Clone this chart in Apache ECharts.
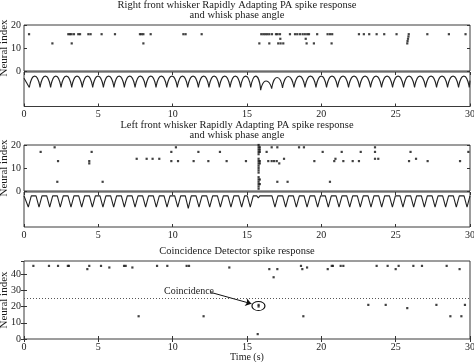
<!DOCTYPE html>
<html><head><meta charset="utf-8">
<script src="https://cdn.jsdelivr.net/npm/echarts/dist/echarts.min.js"></script>
<style>html,body{margin:0;padding:0;background:#fff;overflow:hidden}#c{width:474px;height:362px}</style>
</head><body><div id="c"></div>
<script>
// ---------- data ----------
const timeTicks = [0, 5, 10, 15, 20, 25, 30];
const titles = [
  "Right front whisker Rapidly Adapting PA spike response\nand whisk phase angle",
  "Left front whisker Rapidly Adapting PA spike response\nand whisk phase angle",
  "Coincidence Detector spike response"
];
// right whisker raster: [time (s), neural index]
const rightSpikes = [
  [0.34,16],[2.98,16],[3.09,16],[3.20,16],[3.36,16],[3.65,16],[3.77,16],[4.33,16],[4.48,16],[5.22,16],
  [6.12,16],[7.80,16],[7.91,16],[8.03,16],[8.52,16],[10.72,16],[10.87,16],[11.95,16],[15.96,16],[16.10,16],
  [16.23,16],[16.36,16],[16.50,16],[16.68,16],[16.95,16],[17.06,16],[17.22,16],[17.89,16],[18.23,16],[18.38,16],
  [18.56,16],[18.74,16],[18.89,16],[19.05,16],[19.17,16],[19.72,16],[20.42,16],[20.58,16],[20.73,16],[22.53,16],
  [22.86,16],[23.22,16],[23.72,16],[24.23,16],[25.06,16],[25.88,16],[27.13,16],[28.58,16],[29.70,16],
  [1.91,12],[3.21,12],[8.03,12],[15.83,12],[16.50,12],[17.10,12],[17.26,12],[17.44,12],[19.01,12],[19.50,12],
  [20.69,12],[25.78,12],[17.24,14],[18.95,14],[25.86,15],[25.83,14],[25.80,13]
];
// left whisker raster
const leftSpikes = [
  [1.12,17],[2.06,19],[2.29,13],[2.24,4],[4.39,13],[4.39,12],[4.55,17],[5.29,4],[7.58,14],[8.25,14],
  [8.65,14],[9.10,14],[9.91,17],[9.91,13],[10.22,19],[10.36,13],[11.41,13],[11.73,17],[12.40,13],[13.18,17],
  [13.63,13],[14.93,13],
  [15.78,20],[15.78,19],[15.78,18],[15.78,17],[15.78,16],[15.78,14],[15.78,13],[15.78,12],[15.78,11],[15.78,10],
  [15.78,9],[15.78,8],[15.78,6],[15.78,5],[15.78,4],[15.78,3],[15.78,2],[15.78,1],
  [15.86,19],[15.86,18],[15.86,17],[15.86,13],[15.86,12],[15.86,5],[15.86,3],
  [16.32,17],[16.66,19],[16.43,13],[16.66,13],[16.82,13],[17.00,13],[17.17,12],[17.04,19],[17.04,4],[17.49,14],
  [17.73,4],[18.50,19],[18.83,19],[19.53,13],[20.09,17],[20.58,4],[20.87,13],[20.95,14],[21.37,17],[21.48,13],
  [22.11,13],[22.53,13],[22.65,17],[23.61,19],[23.61,17],[23.61,14],[23.83,14],[25.90,13],[26.00,17],[26.37,14],
  [27.15,13],[29.33,13],[29.89,17]
];
// coincidence detector raster
const coincSpikes = [
  [0.63,45],[1.68,45],[2.29,45],[2.95,45],[3.02,45],[4.26,43],[4.39,45],[5.18,45],[5.74,44],[6.73,45],
  [6.84,45],[7.29,44],[7.71,14],[8.95,45],[9.64,45],[10.94,45],[11.10,45],[12.08,14],[13.81,44],[15.72,3],
  [15.78,20],[15.78,21],[16.50,43],[16.79,38],[17.04,43],[18.63,45],[18.72,43],[18.79,14],[19.04,44],[20.43,43],
  [20.70,45],[20.78,45],[21.30,45],[21.48,45],[23.16,21],[23.72,45],[24.33,21],[24.46,45],[25.00,43],[25.20,45],
  [25.78,19],[26.19,45],[26.77,45],[27.74,21],[28.43,45],[28.68,14],[29.30,43],[29.42,14],[29.66,21]
];
const threshold = [25];
// whisk phase (right): cusp times, cusp levels, arch tops between cusps
const rightTroughT = [0.36,1.08,1.79,2.49,3.21,3.92,4.62,5.34,6.05,6.75,7.47,8.18,8.88,9.60,10.31,11.01,11.73,12.44,13.14,13.86,14.57,15.25,15.92,16.66,17.39,18.16,18.90,19.64,20.35,21.09,21.83,22.57,23.31,24.05,24.79,25.53,26.27,27.01,27.75,28.49,29.23,29.95];
const rightTroughV = [0.55,0.55,0.55,0.55,0.55,0.55,0.55,0.55,0.55,0.55,0.55,0.55,0.55,0.55,0.55,0.55,0.55,0.55,0.55,0.55,0.55,0.55,0.47,0.52,0.54,0.55,0.55,0.55,0.55,0.55,0.55,0.55,0.55,0.55,0.55,0.55,0.55,0.55,0.55,0.55,0.55,0.55];
const rightPeakV = [0.88,0.88,0.88,0.88,0.88,0.88,0.88,0.88,0.88,0.88,0.88,0.88,0.88,0.88,0.88,0.88,0.88,0.88,0.88,0.88,0.88,0.88,0.74,0.84,0.87,0.88,0.88,0.88,0.88,0.88,0.88,0.88,0.88,0.88,0.88,0.88,0.88,0.88,0.88,0.88,0.88];
const rightStartV = 0.82, rightEndV = 0.75;
// whisk phase (left): trough times and levels, flat top level
const leftTroughT = [0.29,1.01,1.73,2.44,3.16,3.88,4.60,5.31,6.03,6.75,7.47,8.18,8.90,9.62,10.34,11.05,11.77,12.49,13.21,13.92,14.64,15.22,15.76,16.88,17.60,18.32,19.04,19.75,20.47,21.19,21.91,22.62,23.34,24.06,24.78,25.49,26.21,26.93,27.65,28.36,29.08,29.80];
const leftTroughV = [0.57,0.57,0.57,0.57,0.57,0.57,0.57,0.57,0.57,0.57,0.57,0.57,0.57,0.57,0.57,0.53,0.57,0.57,0.57,0.57,0.57,0.57,0.83,0.57,0.57,0.57,0.57,0.57,0.57,0.57,0.57,0.57,0.57,0.57,0.57,0.57,0.57,0.57,0.57,0.57,0.57,0.57];
const leftTopV = 0.89;
// annotation (data coordinates)
const annText = "Coincidence";
const annTextAt = [11.1, 29.3];
const annArrowFrom = [12.6, 28.6];
const annArrowTo = [15.3, 21.7];
const annCircleAt = [15.77, 20.3];

// ---------- build ----------
const FONT = "'Liberation Serif','Times New Roman',serif";
const INK = '#1a1a1a';

function rightPhaseData() {
  const d = [[0, rightStartV], [rightTroughT[0], rightTroughV[0]], ['-', '-']];
  for (let i = 0; i < rightTroughT.length - 1; i++) {
    const a = rightTroughT[i], b = rightTroughT[i + 1];
    d.push([a, rightTroughV[i]], [(a + b) / 2, rightPeakV[i]], [b, rightTroughV[i + 1]], ['-', '-']);
  }
  const n = rightTroughT.length - 1;
  d.push([rightTroughT[n], rightTroughV[n]], [30, rightEndV]);
  return d;
}
function leftPhaseData() {
  const d = [[0, leftTopV]];
  leftTroughT.forEach((t, i) => {
    const hw = leftTroughV[i] > 0.7 ? 0.1 : 0.2;
    d.push([t - hw, leftTopV], [t, leftTroughV[i]], [t + hw, leftTopV]);
  });
  d.push([30, leftTopV]);
  return d;
}

const L = 24, W = 446;
const gridBox = (top, height) => ({left: L, width: W, top, height, show: true,
  containLabel: false, outerBoundsMode: 'none',
  borderColor: '#3a3a3a', borderWidth: 1, backgroundColor: 'transparent'});
const grids = [gridBox(25, 46), gridBox(72, 34.5), gridBox(145, 46), gridBox(192, 35), gridBox(261, 78)];

const tickStyle = {inside: true, length: 3, lineStyle: {color: '#333'}};
const labelStyle = {color: INK, fontFamily: FONT, fontSize: 10};
function xAx(grid, opts) {
  return Object.assign({type: 'value', gridIndex: grid, min: 0, max: 30, interval: 5,
    axisLine: {show: false}, splitLine: {show: false},
    axisTick: {show: false}, axisLabel: {show: false}}, opts);
}
function yAx(grid, min, max, interval, opts) {
  return Object.assign({type: 'value', gridIndex: grid, min, max, interval,
    axisLine: {show: false}, splitLine: {show: false},
    axisTick: {show: false}, axisLabel: {show: false}}, opts);
}
const xLabels = {show: true, margin: 3, ...labelStyle, showMaxLabel: true, hideOverlap: false,
  formatter: v => timeTicks.includes(v) ? String(v) : ''};
const yName = {name: 'Neural index', nameLocation: 'middle', nameGap: 14, nameRotate: 90,
  nameMoveOverlap: false,
  nameTextStyle: {color: INK, fontFamily: FONT, fontSize: 11}};

const xAxes = [
  xAx(0, {}),
  xAx(1, {position: 'bottom', axisTick: tickStyle, axisLabel: xLabels}),
  xAx(1, {position: 'top', axisTick: tickStyle}),
  xAx(2, {}),
  xAx(3, {position: 'bottom', axisTick: tickStyle, axisLabel: xLabels}),
  xAx(3, {position: 'top', axisTick: tickStyle}),
  xAx(4, {position: 'bottom', axisTick: tickStyle, axisLabel: xLabels,
    name: 'Time (s)', nameLocation: 'middle', nameGap: 13, nameMoveOverlap: false,
    nameTextStyle: {color: INK, fontFamily: FONT, fontSize: 10}}),
  xAx(4, {position: 'top', axisTick: tickStyle})
];
const yLab = {show: true, margin: 3, ...labelStyle};
const yAxes = [
  yAx(0, 0, 20, 10, Object.assign({position: 'left', axisTick: tickStyle, axisLabel: yLab}, yName)),
  yAx(0, 0, 20, 10, {position: 'right', axisTick: tickStyle}),
  yAx(1, 0, 1, 0.5, {}),
  yAx(2, 0, 20, 10, Object.assign({position: 'left', axisTick: tickStyle, axisLabel: yLab}, yName)),
  yAx(2, 0, 20, 10, {position: 'right', axisTick: tickStyle}),
  yAx(3, 0, 1, 0.5, {}),
  yAx(4, 0, 48, 10, Object.assign({position: 'left', axisTick: tickStyle,
    axisLabel: Object.assign({showMaxLabel: false}, yLab)}, yName)),
  yAx(4, 0, 48, 10, {position: 'right', axisTick: tickStyle})
];

const dot = {type: 'scatter', symbol: 'rect', symbolSize: 2.2, itemStyle: {color: '#111'}, silent: true};

const option = {
  animation: false,
  backgroundColor: '#fff',
  title: [
    {text: titles[0], left: 'center', top: -0.5},
    {text: titles[1], left: 'center', top: 119.5},
    {text: titles[2], left: 'center', top: 245.5}
  ].map(t => Object.assign(t, {padding: 0, itemGap: 0,
    textStyle: {fontFamily: FONT, fontSize: 10.5, fontWeight: 'normal', color: INK, lineHeight: 10.5}})),
  grid: grids,
  xAxis: xAxes,
  yAxis: yAxes,
  series: [
    Object.assign({}, dot, {xAxisIndex: 0, yAxisIndex: 0, data: rightSpikes}),
    {type: 'line', xAxisIndex: 1, yAxisIndex: 2, data: rightPhaseData(), smooth: 0.7,
      showSymbol: false, connectNulls: false, lineStyle: {color: '#222', width: 1.1}, silent: true},
    Object.assign({}, dot, {xAxisIndex: 3, yAxisIndex: 3, data: leftSpikes}),
    {type: 'line', xAxisIndex: 4, yAxisIndex: 5, data: leftPhaseData(),
      showSymbol: false, lineStyle: {color: '#222', width: 1.1}, silent: true},
    Object.assign({}, dot, {xAxisIndex: 6, yAxisIndex: 6, data: coincSpikes,
      markLine: {silent: true, symbol: 'none', animation: false, label: {show: false},
        lineStyle: {type: [1, 2], color: '#555', width: 1},
        data: threshold.map(v => ({yAxis: v}))},
      markPoint: {silent: true, animation: false, data: [
        {coord: annCircleAt, symbol: 'circle', symbolSize: [13, 9],
          itemStyle: {color: 'rgba(0,0,0,0)', borderColor: '#111', borderWidth: 1}, label: {show: false}},
        {coord: annTextAt, symbol: 'rect', symbolSize: 0,
          label: {show: true, position: 'inside', formatter: annText, color: INK, fontFamily: FONT, fontSize: 10}}
      ]}}),
    {type: 'lines', coordinateSystem: 'cartesian2d', xAxisIndex: 6, yAxisIndex: 6, silent: true,
      symbol: ['none', 'arrow'], symbolSize: 6,
      lineStyle: {color: '#111', width: 1, opacity: 1},
      data: [{coords: [annArrowFrom, annArrowTo]}]}
  ]
};
const chart = echarts.init(document.getElementById('c'), null, {renderer: 'canvas'});
chart.setOption(option);
</script></body></html>
